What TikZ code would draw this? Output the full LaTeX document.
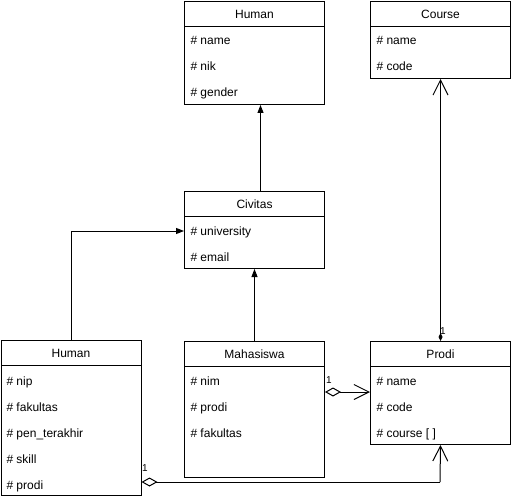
\documentclass[tikz,border=0pt]{standalone}
\usepackage{fontspec}
\setmainfont{Liberation Sans}
\usetikzlibrary{arrows.meta}

\tikzset{
  hdr/.style={draw, minimum width=140pt, minimum height=25pt, inner sep=0pt, anchor=north west},
  bdy/.style={draw, minimum width=140pt, inner sep=0pt, anchor=north west},
  attr/.style={anchor=west, inner sep=0pt, text height=9pt, text depth=3pt, yshift=-2pt},
  mult/.style={inner sep=0pt, font=\fontsize{10}{12}\selectfont},
  inherit/.style={-{Triangle[length=8pt,width=6pt]}},
  agg/.style={{Diamond[open,length=16pt,width=9pt]}-{Straight Barb[length=15pt,width=15pt]}}
}

\begin{document}
\begin{tikzpicture}[x=1pt, y=-1pt, line width=1pt, font=\fontsize{12}{14}\selectfont]
    \useasboundingbox (0,0) rectangle (511,500);

    % Human (top)
    \node[hdr] (humh) at (184,1) {Human};
    \node[bdy, minimum height=78pt] (humb) at (184,26) {};
    \node[attr] (humn) at (190,40) {\# name};
    \node[attr] (humk) at (190,66) {\# nik};
    \node[attr] (humg) at (190,92) {\# gender};

    % Course
    \node[hdr] (crsh) at (370,1) {Course};
    \node[bdy, minimum height=52pt] (crsb) at (370,26) {};
    \node[attr] (crsn) at (376,40) {\# name};
    \node[attr] (crsc) at (376,66) {\# code};

    % Civitas
    \node[hdr] (civh) at (184,191) {Civitas};
    \node[bdy, minimum height=52pt] (civb) at (184,216) {};
    \node[attr] (civu) at (190,230) {\# university};
    \node[attr] (cive) at (190,256) {\# email};

    % Human (dosen)
    \node[hdr] (hmlh) at (0.5,340) {Human};
    \node[bdy, minimum height=130pt] (hmlb) at (0.5,365) {};
    \node[attr] (hmln) at (6,380) {\# nip};
    \node[attr] (hmlf) at (6,406) {\# fakultas};
    \node[attr] (hmlp) at (6,432) {\# pen\_terakhir};
    \node[attr] (hmls) at (6,458) {\# skill};
    \node[attr] (hmlr) at (6,484) {\# prodi};

    % Mahasiswa
    \node[hdr] (mhsh) at (184,341) {Mahasiswa};
    \node[bdy, minimum height=111pt] (mhsb) at (184,366) {};
    \node[attr] (mhsn) at (190,380) {\# nim};
    \node[attr] (mhsp) at (190,406) {\# prodi};
    \node[attr] (mhsf) at (190,432) {\# fakultas};

    % Prodi
    \node[hdr] (prdh) at (370,341) {Prodi};
    \node[bdy, minimum height=78pt] (prdb) at (370,366) {};
    \node[attr] (prdn) at (376,380) {\# name};
    \node[attr] (prdc) at (376,406) {\# code};
    \node[attr] (prdk) at (376,432) {\# course [ ]};

    % inheritance
    \draw[inherit] ([xshift=6pt]civh.north) -- ([xshift=6pt]humb.south);
    \draw[inherit] (mhsh.north) -- (civb.south);
    \draw[inherit] (hmlh.north) |- (civb.west |- 0,231);

    % associations
    \coordinate (bend) at (440,482);
    \draw[agg] (mhsb.east |- 0,392) -- (prdb.west |- 0,392);
    \node[mult] (m1) at (329,380) {1};
    \draw[{Diamond[open,length=16pt,width=9pt]}-] (hmlb.east |- bend) -- (bend);
    \draw[-{Straight Barb[length=15pt,width=15pt]}] (bend) -- (prdb.south);
    \node[mult] (m2) at (145,468) {1};
    \draw[{Diamond[length=8pt,width=4pt]}-{Straight Barb[length=15pt,width=15pt]}] (prdh.north) -- (crsb.south);
    \node[mult] (m3) at (443,331) {1};
\end{tikzpicture}
\end{document}
